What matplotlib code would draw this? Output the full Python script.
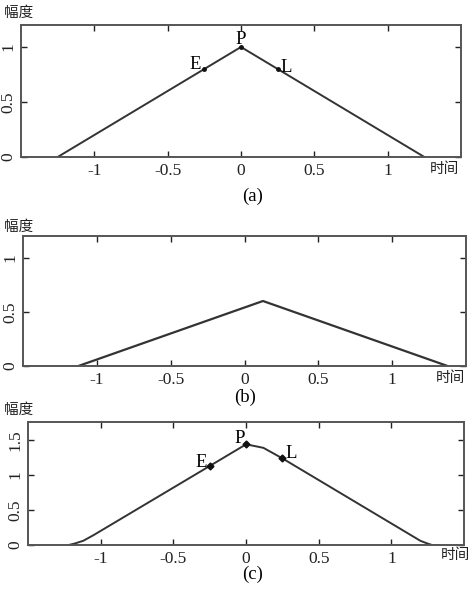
import numpy as np
from matplotlib import pyplot as plt

plt.rcParams['font.family'] = ['Liberation Serif', 'Noto Sans CJK SC', 'DejaVu Sans']

# (a) ideal triangle
t_a = [-1.25, -0.25, 0.0, 0.25, 1.25]
y_a = [0.0, 0.8, 1.0, 0.8, 0.0]
mark_a = {'E': (-0.25, 0.8), 'P': (0.0, 1.0), 'L': (0.25, 0.8)}

# (b) delayed, smaller triangle
t_b = [-1.125, 0.125, 1.375]
y_b = [0.0, 0.6, 0.0]

# (c) summed / smoothed correlation
t_c = [-1.22, -1.18, -1.12, -1.05, -0.25, 0.0, 0.05, 0.12, 0.25, 1.2, 1.25, 1.28, 1.32]
y_c = [0.0, 0.02, 0.06, 0.14, 1.13, 1.44, 1.42, 1.39, 1.24, 0.06, 0.02, 0.0, 0.0]
mark_c = {'E': (-0.25, 1.13), 'P': (0.0, 1.44), 'L': (0.25, 1.24)}

xticks = [-1, -0.5, 0, 0.5, 1]
xticklabels = ['-1', '-0.5', '0', '0.5', '1']

fig = plt.figure(figsize=(4.74, 5.91), dpi=100)

def setup(ax, ylim, yticks, yticklabels):
	ax.set_xlim(-1.5, 1.5)
	ax.set_ylim(*ylim)
	ax.set_xticks(xticks)
	ax.set_xticklabels(xticklabels)
	ax.set_yticks(yticks)
	ax.set_yticklabels(yticklabels, rotation=90, va='center')
	ax.tick_params(direction='in', length=4, width=1, top=True, right=True,
				labelsize=12.5, colors='#222222', pad=3)
	ax.tick_params(axis='x', pad=4)
	for s in ax.spines.values():
		s.set_color('#555555')
		s.set_linewidth(1.4)

def cjk(x, y, s):
	fig.text(x / 474, 1 - y / 591, s, fontsize=10.5, family=['Noto Sans CJK SC', 'DejaVu Sans'],
			ha='left', va='center', color='#222222')

# panel (a)
ax1 = fig.add_axes([21/474, 1-157/591, 440/474, 132/591])
ax1.plot(t_a, y_a, color='#333333', lw=1.4)
for k, (x, y) in mark_a.items():
	ax1.plot(x, y, 'o', color='#111111', ms=2.5)
ax1.text(0.0, 0.99, 'P', ha='center', va='bottom', fontsize=13.5)
ax1.text(-0.27, 0.76, 'E', ha='right', va='bottom', fontsize=13.5)
ax1.text(0.27, 0.74, 'L', ha='left', va='bottom', fontsize=13.5)
setup(ax1, (0, 1.2), [0, 0.5, 1], ['0', '0.5', '1'])

# panel (b)
ax2 = fig.add_axes([23/474, 1-366/591, 443/474, 130/591])
ax2.plot(t_b, y_b, color='#333333', lw=1.6)
setup(ax2, (0, 1.2), [0, 0.5, 1], ['0', '0.5', '1'])

# panel (c)
ax3 = fig.add_axes([28/474, 1-545/591, 436/474, 123/591])
ax3.plot(t_c, y_c, color='#333333', lw=1.4)
for k, (x, y) in mark_c.items():
	ax3.plot(x, y, 'D', color='#111111', ms=3.5)
ax3.text(-0.01, 1.40, 'P', ha='right', va='bottom', fontsize=13.5)
ax3.text(-0.27, 1.06, 'E', ha='right', va='bottom', fontsize=13.5)
ax3.text(0.27, 1.19, 'L', ha='left', va='bottom', fontsize=13.5)
setup(ax3, (0, 1.76), [0, 0.5, 1, 1.5], ['0', '0.5', '1', '1.5'])

cjk(4, 13, '幅度')
cjk(4, 227, '幅度')
cjk(4, 410, '幅度')
cjk(430, 169, '时间')
cjk(436, 378, '时间')
cjk(441, 555, '时间')

fig.text(253/474, 1-196/591, '(a)', ha='center', va='center', fontsize=13.5)
fig.text(245/474, 1-397/591, '(b)', ha='center', va='center', fontsize=13.5)
fig.text(253/474, 1-574/591, '(c)', ha='center', va='center', fontsize=13.5)

fig.savefig('out.png', dpi=100, facecolor='white')
